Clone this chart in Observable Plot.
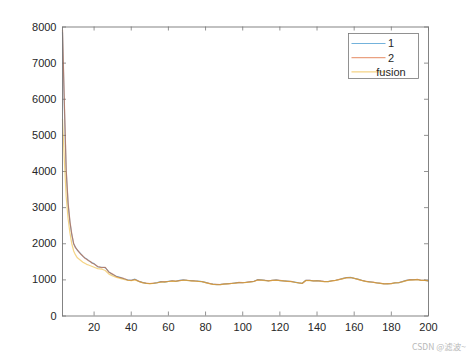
<!DOCTYPE html>
<html>
<head>
<meta charset="utf-8">
<script src="https://cdn.jsdelivr.net/npm/d3@7"></script>
<script src="https://cdn.jsdelivr.net/npm/@observablehq/plot@0.6"></script>
<style>
  html, body { margin: 0; padding: 0; background: #fff; }
  #chart { position: relative; width: 474px; height: 355px; }
</style>
</head>
<body>
<div id="chart"></div>
<script>
// x positions (samples)
const xs = [3,4,5,6,7,8,9,10,11,12,13,14,15,16,17,18,19,20,
  22,24,26,28,30,32,34,36,38,40,42,44,46,48,50,52,54,56,58,60,
  62,64,66,68,70,72,74,76,78,80,82,84,86,88,90,92,94,96,98,100,
  102,104,106,108,110,112,114,116,118,120,122,124,126,128,130,132,134,136,138,140,
  142,144,146,148,150,152,154,156,158,160,162,164,166,168,170,172,174,176,178,180,
  182,184,186,188,190,192,194,196,198,200];

const series1 = [7850,5800,4000,3100,2600,2250,2000,1900,1820,1770,1710,1650,1610,1580,1540,1500,1470,1450,
  1360,1350,1340,1220,1150,1100,1070,1030,1000,990,1020,960,930,905,900,905,925,950,940,960,
  975,960,985,1000,985,980,970,965,950,930,900,880,870,875,885,895,900,915,925,920,
  935,945,960,1005,1000,985,975,990,1000,980,975,965,955,940,915,905,990,985,975,980,
  965,955,950,975,990,1010,1040,1060,1070,1040,1020,990,960,950,935,920,905,895,890,900,
  915,925,950,985,1000,1005,1010,990,985,975];

const series2 = [7920,5900,4050,3150,2620,2270,2010,1890,1830,1760,1700,1660,1600,1570,1530,1510,1460,1440,
  1370,1340,1350,1210,1160,1090,1060,1040,995,985,1010,965,925,910,895,910,920,945,950,955,
  970,965,980,995,990,975,975,960,955,925,905,875,875,870,890,890,905,910,930,925,
  930,950,955,1000,995,990,970,985,995,985,970,960,960,935,920,900,985,990,970,975,
  970,950,955,970,985,1015,1035,1065,1065,1045,1015,985,965,945,940,915,910,890,895,895,
  920,920,955,980,1005,1000,1015,985,990,970];

const fusion = [5450,4300,3300,2700,2300,2000,1800,1690,1610,1570,1530,1490,1460,1430,1410,1390,1370,1350,
  1310,1300,1260,1160,1110,1070,1040,1010,990,975,1000,955,925,900,895,900,920,940,940,955,
  965,960,975,990,985,975,965,960,950,925,895,875,865,870,880,890,900,910,920,920,
  930,940,955,995,995,980,970,985,990,980,970,960,950,935,915,905,980,980,970,975,
  960,950,950,970,985,1005,1035,1055,1065,1040,1015,985,960,945,935,915,905,890,890,895,
  915,920,945,980,995,1000,1005,985,985,975];

const seriesNames = ["1", "2", "fusion"];
const seriesColors = ["#0072BD", "#D95319", "#EDB120"];
const xTicks = [20,40,60,80,100,120,140,160,180,200];
const yTicks = [0,1000,2000,3000,4000,5000,6000,7000,8000];
const watermark = "CSDN @滤波~";

const rows = [];
[series1, series2, fusion].forEach((arr, k) => {
  arr.forEach((v, i) => rows.push({x: xs[i], y: v, s: seriesNames[k]}));
});

const W = 474, H = 355;
const mL = 62, mR = 46, mT = 26.5, mB = 39.5;
const plotH = H - mT - mB;
const plotW = W - mL - mR;
const axisColor = "#777";
const textColor = "#262626";
const lineOpacity = 0.55;
const lineWidth = 1.2;

const chart = Plot.plot({
  width: W, height: H,
  marginLeft: mL, marginRight: mR, marginTop: mT, marginBottom: mB,
  style: {fontFamily: "'Liberation Sans', Arial, sans-serif", fontSize: "11px", color: textColor, background: "#fff"},
  x: {domain: [3, 200], ticks: xTicks},
  y: {domain: [0, 8000], ticks: yTicks},
  color: {domain: seriesNames, range: seriesColors},
  marks: [
    Plot.axisX(xTicks, {tickSize: 0, tickPadding: 7, label: null, fill: textColor, tickFormat: d3.format("d")}),
    Plot.axisY(yTicks, {tickSize: 0, tickPadding: 6, label: null, fill: textColor, tickFormat: d3.format("d")}),
    Plot.tickX(xTicks, {x: d => d, insetTop: plotH - 4, stroke: axisColor, strokeWidth: 0.8}),
    Plot.tickX(xTicks, {x: d => d, insetBottom: plotH - 4, stroke: axisColor, strokeWidth: 0.8}),
    Plot.tickY(yTicks, {y: d => d, insetRight: plotW - 4, stroke: axisColor, strokeWidth: 0.8}),
    Plot.tickY(yTicks, {y: d => d, insetLeft: plotW - 4, stroke: axisColor, strokeWidth: 0.8}),
    Plot.line(rows, {x: "x", y: "y", z: "s", stroke: "s", strokeWidth: lineWidth, strokeOpacity: lineOpacity}),
    Plot.frame({stroke: axisColor, strokeWidth: 0.9})
  ]
});

document.getElementById("chart").appendChild(chart);

// Legend inside the SVG (top-right)
const svg = d3.select(chart);
const lg = svg.append("g").attr("transform", "translate(348.5,33.5)");
lg.append("rect").attr("width", 70).attr("height", 45)
  .attr("fill", "#fff").attr("stroke", axisColor).attr("stroke-width", 0.8);
seriesNames.forEach((name, i) => {
  const y = 10 + i * 14.2;
  lg.append("line").attr("x1", 3).attr("x2", 37).attr("y1", y).attr("y2", y)
    .attr("stroke", seriesColors[i]).attr("stroke-width", lineWidth).attr("stroke-opacity", lineOpacity);
  lg.append("text").attr("x", 42.5).attr("y", y).attr("dy", "0.35em")
    .attr("fill", textColor).attr("font-size", 11)
    .attr("font-family", "'Liberation Sans', Arial, sans-serif").text(name);
});

// Watermark
svg.append("text").attr("x", 466).attr("y", 350).attr("text-anchor", "end")
  .attr("fill", "#b8b8b8").attr("font-size", 8.5)
  .attr("font-family", "'Noto Sans CJK SC', sans-serif").text(watermark);
</script>
</body>
</html>
